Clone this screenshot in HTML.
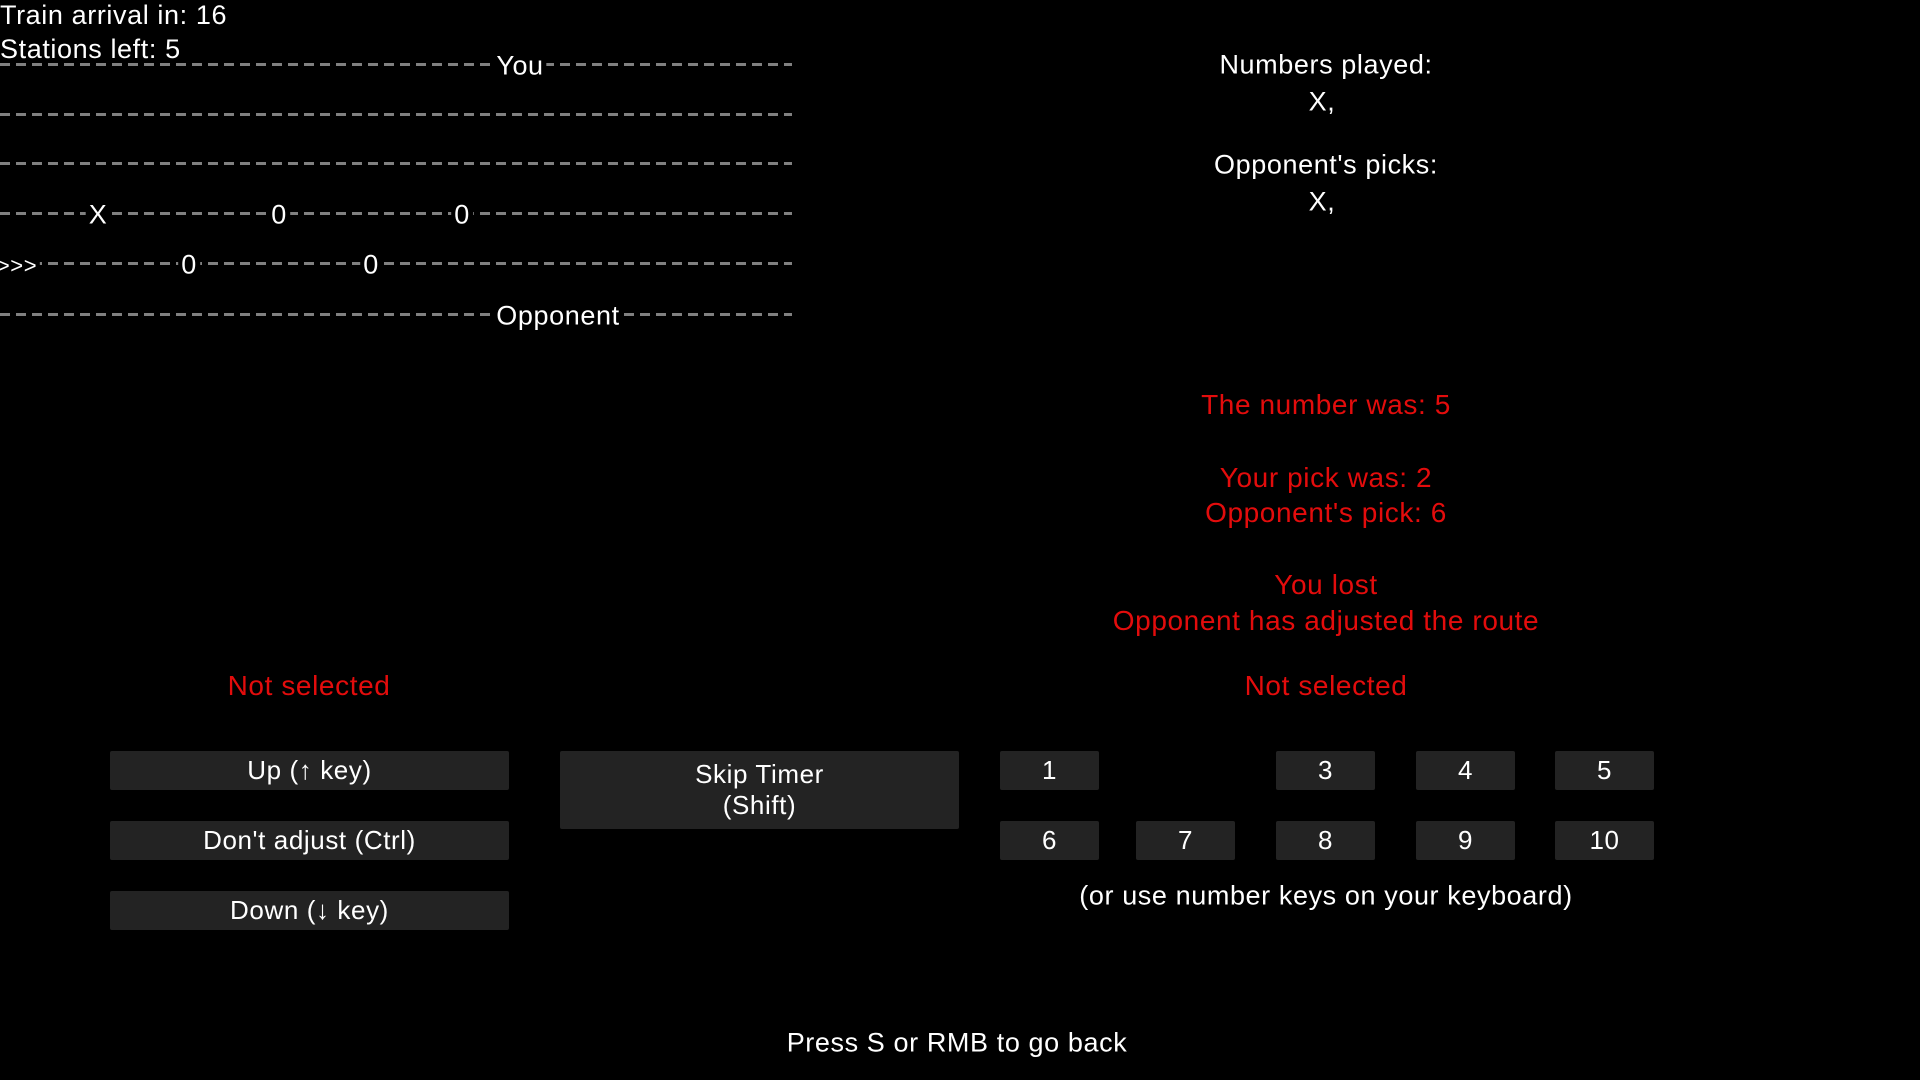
<!DOCTYPE html>
<html><head><meta charset="utf-8"><style>
html,body{margin:0;padding:0;background:#000;width:1920px;height:1080px;overflow:hidden}
body{position:relative;font-family:"Liberation Sans",sans-serif;color:#fff;font-size:27px;letter-spacing:0.6px}
.t{position:absolute;white-space:nowrap;transform:translate(-50%,-50%);line-height:1}
.l{position:absolute;white-space:nowrap;line-height:1}
.r{color:#e30c0c;font-size:28px}
.line{position:absolute;left:0;width:792px;height:3px;background:repeating-linear-gradient(90deg,#808080 0 10px,transparent 10px 16px)}
.b{position:absolute;background:#232323;border-radius:2px;display:flex;align-items:center;justify-content:center;text-align:center;line-height:1.2;font-size:26px}
.bg{background:#000;padding:0 3px}
</style></head><body>
<div class="l" style="left:0;top:2px">Train arrival in: 16</div>
<div class="l" style="left:0;top:36px">Stations left: 5</div>

<div class="line" style="top:63px"></div>
<div class="line" style="top:113px"></div>
<div class="line" style="top:162px"></div>
<div class="line" style="top:212px"></div>
<div class="line" style="top:262px"></div>
<div class="line" style="top:313px"></div>

<div class="t bg" style="left:520px;top:66px">You</div>
<div class="t bg" style="left:98px;top:215px">X</div>
<div class="t bg" style="left:279px;top:215px">0</div>
<div class="t bg" style="left:462px;top:215px">0</div>
<div class="t bg" style="left:17px;top:266px;font-size:22px">&gt;&gt;&gt;</div>
<div class="t bg" style="left:189px;top:265px">0</div>
<div class="t bg" style="left:371px;top:265px">0</div>
<div class="t bg" style="left:558px;top:316px">Opponent</div>

<div class="t" style="left:1326px;top:65px">Numbers played:</div>
<div class="t" style="left:1322px;top:102px">X,</div>
<div class="t" style="left:1326px;top:165px">Opponent's picks:</div>
<div class="t" style="left:1322px;top:202px">X,</div>

<div class="t r" style="left:1326px;top:405px">The number was: 5</div>
<div class="t r" style="left:1326px;top:478px">Your pick was: 2</div>
<div class="t r" style="left:1326px;top:513px">Opponent's pick: 6</div>
<div class="t r" style="left:1326px;top:585px">You lost</div>
<div class="t r" style="left:1326px;top:621px">Opponent has adjusted the route</div>
<div class="t r" style="left:309px;top:686px">Not selected</div>
<div class="t r" style="left:1326px;top:686px">Not selected</div>

<div class="b" style="left:110px;top:751px;width:399px;height:39px">Up (↑ key)</div>
<div class="b" style="left:110px;top:821px;width:399px;height:39px">Don't adjust (Ctrl)</div>
<div class="b" style="left:110px;top:891px;width:399px;height:39px">Down (↓ key)</div>
<div class="b" style="left:560px;top:751px;width:399px;height:78px">Skip Timer<br>(Shift)</div>

<div class="b" style="left:1000px;top:751px;width:99px;height:39px">1</div>
<div class="b" style="left:1276px;top:751px;width:99px;height:39px">3</div>
<div class="b" style="left:1416px;top:751px;width:99px;height:39px">4</div>
<div class="b" style="left:1555px;top:751px;width:99px;height:39px">5</div>
<div class="b" style="left:1000px;top:821px;width:99px;height:39px">6</div>
<div class="b" style="left:1136px;top:821px;width:99px;height:39px">7</div>
<div class="b" style="left:1276px;top:821px;width:99px;height:39px">8</div>
<div class="b" style="left:1416px;top:821px;width:99px;height:39px">9</div>
<div class="b" style="left:1555px;top:821px;width:99px;height:39px">10</div>

<div class="t" style="left:1326px;top:896px;font-size:27px">(or use number keys on your keyboard)</div>
<div class="t" style="left:957px;top:1043px">Press S or RMB to go back</div>
</body></html>
